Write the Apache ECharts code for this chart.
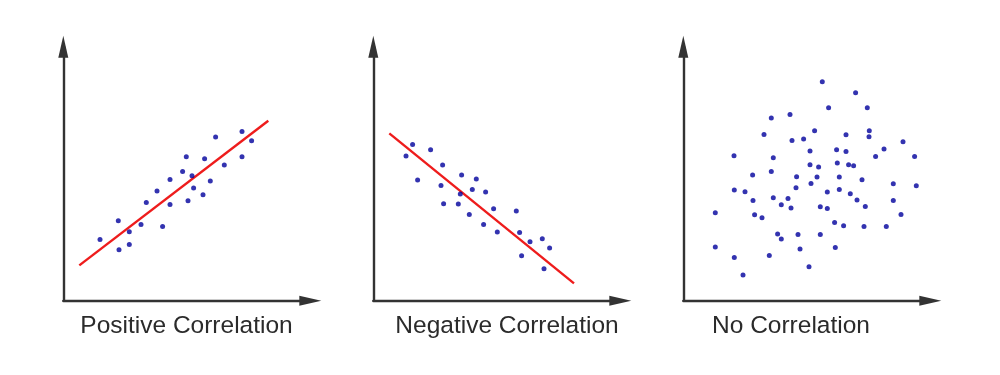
<!DOCTYPE html>
<html>
<head>
<meta charset="utf-8">
<script src="https://cdn.jsdelivr.net/npm/echarts@6/dist/echarts.min.js"></script>
<style>html,body{margin:0;padding:0;background:#fff}#c{width:1000px;height:375px}</style>
</head>
<body>
<div id="c"></div>
<script>
// Panel titles
const titles = ['Positive Correlation', 'Negative Correlation', 'No Correlation'];

// Values in axis units (distance from origin, right and up)
const positivePoints = [
  [36.7,61.3],[55,80],[55.7,51],[66,69],[66,56.3],[77.7,76.3],[83,98.3],[93.7,109.7],
  [99.3,74.3],[106.7,121.3],[106.7,96.3],[119.3,129.3],[123,144],[124.7,100],[128.7,125],
  [130.3,112.7],[139.7,106],[141.3,142],[147,119.7],[152.3,163.7],[161,135.7],[178.7,169.3],
  [178.7,144],[188.3,160]
];
const positiveTrend = [[16,35.3],[205,180]];

const negativePoints = [
  [32.7,144.7],[39.3,156.3],[44.3,120.7],[57.3,151],[69.3,135.7],[67.7,115.3],[70.3,97],
  [85,96.7],[88.3,125.7],[87,106.7],[96,86.3],[99,111.3],[103,121.7],[112.3,108.7],
  [110.3,76.3],[120.3,92],[124,68.7],[143,89.7],[146.3,68.3],[148.3,45],[156.7,59],
  [169,62],[170.7,32],[176.3,52.7]
];
const negativeTrend = [[16,167.3],[200.7,17.3]];

const nonePoints = [
  [139,219],[172.3,208],[145.3,193],[184,193],[88,182.7],[106.7,186.3],[80.7,166.3],
  [131.3,170],[186,170],[185.7,164],[162.7,166],[108.7,160.3],[120.3,161.7],[219.7,159],
  [50.7,145],[90,143],[126.7,149.7],[153.3,151],[162.7,149.3],[200.7,151.7],[192.3,144.3],
  [231.3,144.3],[126.7,136],[135.3,133.7],[154,137.7],[165.3,136],[170.3,135],[69.3,125.7],
  [88,129.3],[113.3,124],[133.7,123.7],[156,123.7],[178.7,121],[127.7,117.3],[112.7,113],
  [210,117],[233,115],[51,110.7],[61.7,109],[144,108.7],[156,111.3],[167,107],[69.7,100.3],
  [90,103],[104.7,102.3],[98,96],[107.7,92.7],[137,94],[144,92.3],[173.7,100.7],[182,94.3],
  [210,100.3],[248,102.7],[32,88],[71.3,86],[78.7,83],[217.7,86.3],[151.3,78.3],[160.3,75],
  [180.7,74.3],[203,74.3],[94.3,66.7],[98,61.7],[114.7,66.3],[137,66.3],[32,53.7],
  [116.7,51.7],[152,53.3],[51,43.3],[86,45.3],[59.7,25.7],[125.7,34]
];

const X_MAX = 247, Y_MAX = 254;
const origins = [63.3, 373.3, 683.3];
const titleCenters = [186.5, 507, 791];
const pointSets = [positivePoints, negativePoints, nonePoints];
const trends = [positiveTrend, negativeTrend, null];

const axisColor = '#333333';
const grid = [], xAxis = [], yAxis = [], series = [], graphic = [];
origins.forEach((ox, i) => {
  grid.push({left: ox, top: 300.7 - Y_MAX, width: X_MAX, height: Y_MAX, containLabel: false});
  const common = {
    min: 0, gridIndex: i, type: 'value',
    splitLine: {show: false}, axisTick: {show: false}, axisLabel: {show: false},
    axisLine: {show: true, onZero: false, symbol: ['none', 'path://M5,0 L10,22 L0,22 Z'],
      symbolSize: [11, 22], symbolOffset: [0, 0],
      lineStyle: {color: axisColor, width: 2.4}}
  };
  xAxis.push(Object.assign({}, common, {max: X_MAX}));
  yAxis.push(Object.assign({}, common, {max: Y_MAX}));
  if (trends[i]) {
    series.push({type: 'line', xAxisIndex: i, yAxisIndex: i, data: trends[i], symbol: 'none',
      lineStyle: {color: '#ee1c1c', width: 2.4}, z: 2, silent: true});
  }
  series.push({type: 'scatter', xAxisIndex: i, yAxisIndex: i, data: pointSets[i], symbolSize: 5,
    itemStyle: {color: '#00009c'}, z: 3, silent: true});
  graphic.push({type: 'text', x: titleCenters[i], y: 326,
    style: {text: titles[i], fill: '#2b2b2b', font: '24.5px "Liberation Sans", Arial, sans-serif',
      textAlign: 'center', textVerticalAlign: 'middle'}});
});

const chart = echarts.init(document.getElementById('c'), null, {renderer: 'canvas'});
chart.setOption({animation: false, backgroundColor: '#ffffff', grid, xAxis, yAxis, series, graphic});
</script>
</body>
</html>
